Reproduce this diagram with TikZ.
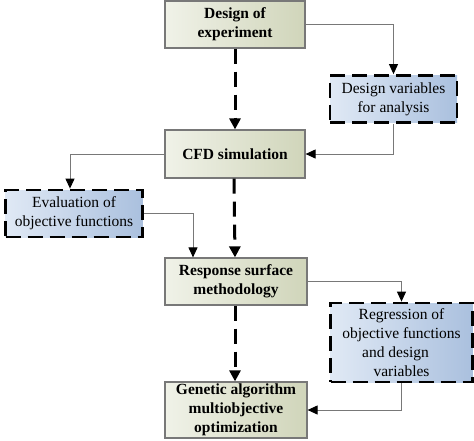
\documentclass[tikz,border=0pt]{standalone}
\usepackage{fontspec}
\setmainfont{Liberation Serif}
\usetikzlibrary{arrows.meta,calc}
\definecolor{gL}{RGB}{240,242,232}
\definecolor{gR}{RGB}{208,213,186}
\definecolor{bL}{RGB}{224,233,245}
\definecolor{bR}{RGB}{170,192,222}
\definecolor{lineg}{RGB}{120,120,120}
\tikzset{
  greenbox/.style={rectangle, draw=lineg, line width=1.2pt, left color=gL, right color=gR,
    align=center, font=\fontsize{15.5}{19}\selectfont\bfseries, inner sep=2pt},
  bluebox/.style={rectangle, draw=black, line width=2.8pt, dash pattern=on 15pt off 7pt,
    left color=bL, right color=bR, align=center, font=\fontsize{15.5}{19}\selectfont, inner sep=2pt},
  thinarrow/.style={draw=lineg, line width=1pt, -{Triangle[length=10pt,width=9pt,color=black]}},
  thickarrow/.style={draw=black, line width=3pt, dash pattern=on 15pt off 8pt,
    -{Triangle[length=11pt,width=11pt,color=black]}}
}
\begin{document}
\begin{tikzpicture}[x=1pt,y=-1pt]
\useasboundingbox (0,0) rectangle (474,440);
\node[greenbox, minimum width=140pt, minimum height=47pt] (doe) at (235,24.5) {Design of\\experiment};
\node[bluebox, minimum width=127pt, minimum height=47pt] (dv) at (393.5,99) {Design variables\\for analysis};
\node[greenbox, minimum width=140pt, minimum height=48pt] (cfd) at (235,154) {CFD simulation};
\node[bluebox, minimum width=137pt, minimum height=47pt] (eval) at (74,213.5) {Evaluation of\\objective functions};
\node[greenbox, minimum width=142pt, minimum height=47pt] (rsm) at (236,281.5) {Response surface\\methodology};
\node[bluebox, minimum width=142pt, minimum height=79pt] (reg) at (401.5,342.5) {Regression of\\objective functions\\and design\kern12pt\\variables};
\node[greenbox, minimum width=142pt, minimum height=56pt] (ga) at (236,410) {Genetic algorithm\\multiobjective\\optimization};

\draw[thinarrow] (doe.east) -| (dv.north);
\draw[thinarrow] (dv.south) |- (cfd.east);
\draw[thinarrow] (cfd.west) -| ([xshift=-4pt]eval.north);
\draw[thinarrow] (eval.east) -| ([xshift=-43pt]rsm.north);
\draw[thinarrow] (rsm.east) -| (reg.north);
\draw[thinarrow] (reg.south) |- (ga.east);

\draw[thickarrow] (doe.south) -- (cfd.north);
\draw[thickarrow] ([xshift=-1pt]cfd.south) -- ([xshift=-1pt]rsm.north);
\draw[thickarrow] ([xshift=-1pt]rsm.south) -- ([xshift=-1pt]ga.north);
\end{tikzpicture}
\end{document}
